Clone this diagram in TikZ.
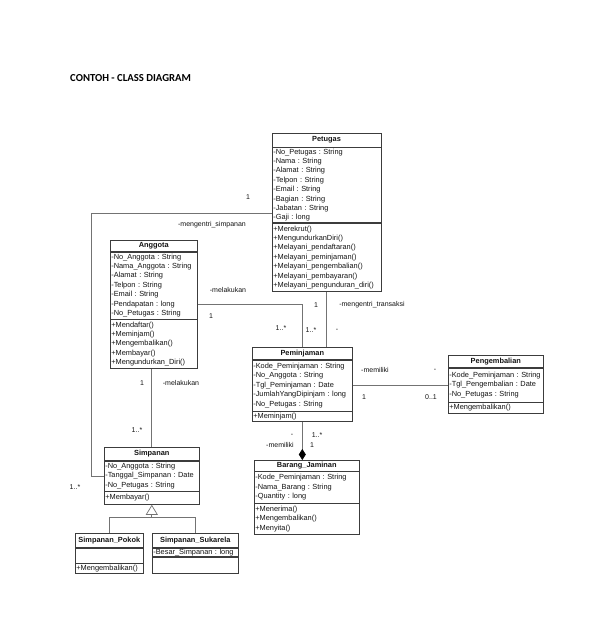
\documentclass[tikz,border=0pt]{standalone}
\usepackage{fontspec}
\setmainfont{Liberation Sans}
\newfontfamily\titlefont{Carlito}
\usetikzlibrary{arrows.meta}
\frenchspacing
\newcommand\clsfont{\fontsize{7.4}{9.4}\selectfont\frenchspacing}
\newcommand\lblfont{\fontsize{7}{8}\selectfont}
\definecolor{boxc}{RGB}{60,60,60}
\definecolor{linec}{RGB}{115,115,115}
\definecolor{txtc}{RGB}{20,20,20}
\begin{document}
\begin{tikzpicture}[x=1pt,y=-1pt,
  part/.style={draw=boxc, line width=0.6pt, anchor=north west, inner xsep=1pt, inner ysep=0pt, font=\clsfont, text=txtc, align=left},
  hdr/.style={part, font=\clsfont\bfseries, align=center},
  conn/.style={draw=linec, line width=0.7pt},
  lbl/.style={font=\lblfont, text=txtc, inner sep=0pt}]
\useasboundingbox[fill=white] (0,0) rectangle (599,640);

\node[font=\titlefont\bfseries\fontsize{10.7}{12}\selectfont, anchor=west, inner sep=0pt] (title) at (70,78) {CONTOH - CLASS DIAGRAM};

% Petugas
\node[hdr, minimum width=108.5pt, text width=106.5pt, minimum height=13.7pt] (petH) at (272,133) {Petugas};
\node[part, minimum width=108.5pt, text width=106.5pt, minimum height=75pt] (petA) at (petH.south west) {-No\_Petugas : String\\-Nama : String\\-Alamat : String\\-Telpon : String\\-Email : String\\-Bagian : String\\-Jabatan : String\\-Gaji : long};
\node[part, minimum width=108.5pt, text width=106.5pt, minimum height=68.3pt] (petM) at (petA.south west) {+Merekrut()\\+MengundurkanDiri()\\+Melayani\_pendaftaran()\\+Melayani\_peminjaman()\\+Melayani\_pengembalian()\\+Melayani\_pembayaran()\\+Melayani\_pengunduran\_diri()};

% Anggota
\node[hdr, minimum width=87pt, text width=85pt, minimum height=11pt] (angH) at (110,240) {Anggota};
\node[part, minimum width=87pt, text width=85pt, minimum height=67pt] (angA) at (angH.south west) {-No\_Anggota : String\\-Nama\_Anggota : String\\-Alamat : String\\-Telpon : String\\-Email : String\\-Pendapatan : long\\-No\_Petugas : String};
\node[part, minimum width=87pt, text width=85pt, minimum height=49pt] (angM) at (angA.south west) {+Mendaftar()\\+Meminjam()\\+Mengembalikan()\\+Membayar()\\+Mengundurkan\_Diri()};

% Peminjaman
\node[hdr, minimum width=100pt, text width=98pt, minimum height=12pt] (pemH) at (252,347) {Peminjaman};
\node[part, minimum width=100pt, text width=98pt, minimum height=51pt] (pemA) at (pemH.south west) {-Kode\_Peminjaman : String\\-No\_Anggota : String\\-Tgl\_Peminjaman : Date\\-JumlahYangDipinjam : long\\-No\_Petugas : String};
\node[part, minimum width=100pt, text width=98pt, minimum height=10pt] (pemM) at (pemA.south west) {+Meminjam()};

% Pengembalian
\node[hdr, minimum width=95pt, text width=93pt, minimum height=12pt] (pengH) at (448,355) {Pengembalian};
\node[part, minimum width=95pt, text width=93pt, minimum height=34pt] (pengA) at (pengH.south west) {-Kode\_Peminjaman : String\\-Tgl\_Pengembalian : Date\\-No\_Petugas : String};
\node[part, minimum width=95pt, text width=93pt, minimum height=11pt] (pengM) at (pengA.south west) {+Mengembalikan()};

% Simpanan
\node[hdr, minimum width=95pt, text width=93pt, minimum height=13pt] (simH) at (104,447) {Simpanan};
\node[part, minimum width=95pt, text width=93pt, minimum height=30pt] (simA) at (simH.south west) {-No\_Anggota : String\\-Tanggal\_Simpanan : Date\\-No\_Petugas : String};
\node[part, minimum width=95pt, text width=93pt, minimum height=13pt] (simM) at (simA.south west) {+Membayar()};

% Barang_Jaminan
\node[hdr, minimum width=105pt, text width=103pt, minimum height=10.5pt] (bjH) at (254,460) {Barang\_Jaminan};
\node[part, minimum width=105pt, text width=103pt, minimum height=31.5pt] (bjA) at (bjH.south west) {-Kode\_Peminjaman : String\\-Nama\_Barang : String\\-Quantity : long};
\node[part, minimum width=105pt, text width=103pt, minimum height=31pt] (bjM) at (bjA.south west) {+Menerima()\\+Mengembalikan()\\+Menyita()};

% Simpanan_Pokok
\node[hdr, minimum width=68pt, text width=66pt, minimum height=14pt] (pokH) at (75,533) {Simpanan\_Pokok};
\node[part, minimum width=68pt, text width=66pt, minimum height=15pt] (pokA) at (pokH.south west) {};
\node[part, minimum width=68pt, text width=66pt, minimum height=10pt] (pokM) at (pokA.south west) {+Mengembalikan()};

% Simpanan_Sukarela
\node[hdr, minimum width=86pt, text width=84pt, minimum height=14pt] (sukH) at (152,533) {Simpanan\_Sukarela};
\node[part, minimum width=86pt, text width=84pt, minimum height=8.5pt] (sukA) at (sukH.south west) {-Besar\_Simpanan : long};
\node[part, minimum width=86pt, text width=84pt, minimum height=16.5pt] (sukM) at (sukA.south west) {};

% connectors
\draw[conn] ([yshift=9.7pt]petA.south west) -- ++(-180.5,0) |- (simA.west);
\draw[conn] ([yshift=15pt]angA.south east) -| (pemH.north);
\draw[conn] (petM.south) -- (petM.south |- pemH.north);
\draw[conn] (pemA.east) -- (pemA.east -| pengA.west);
\draw[conn] (angM.south -| simH.north) -- (simH.north);
\draw[conn, -{Diamond[length=11pt,width=7pt,color=black,fill=black]}] (pemM.south) -- (pemM.south |- bjH.north);
\coordinate (gj) at ([yshift=-13pt]simM.south);
\draw[conn] (pokH.north) |- (gj) -| (sukH.north);
\draw[conn, -{Triangle[open,length=10pt,width=12pt,fill=white]}] (gj) -- (simM.south);

% labels
\node[lbl] (l1) at (248,197) {1};
\node[lbl] (l2) at (212,225) {-mengentri\_simpanan};
\node[lbl] (l3) at (228,290) {-melakukan};
\node[lbl] (l4) at (211,316) {1};
\node[lbl] (l5) at (281,328) {1..*};
\node[lbl] (l6) at (316,305) {1};
\node[lbl] (l7) at (372,305) {-mengentri\_transaksi};
\node[lbl] (l8) at (311,330) {1..*};
\node[lbl] (l9) at (337,330) {-};
\node[lbl] (l10) at (375,370) {-memiliki};
\node[lbl] (l11) at (435,370) {-};
\node[lbl] (l12) at (364,397) {1};
\node[lbl] (l13) at (431,397) {0..1};
\node[lbl] (l14) at (142,383) {1};
\node[lbl] (l15) at (181,383) {-melakukan};
\node[lbl] (l16) at (137,430) {1..*};
\node[lbl] (l17) at (75,487) {1..*};
\node[lbl] (l18) at (292,435) {-};
\node[lbl] (l19) at (317,435) {1..*};
\node[lbl] (l20) at (280,445) {-memiliki};
\node[lbl] (l21) at (312,445) {1};
\end{tikzpicture}
\end{document}
